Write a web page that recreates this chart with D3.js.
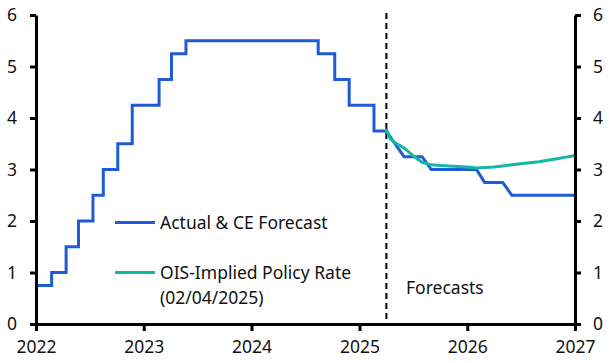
<!DOCTYPE html>
<html><head><meta charset="utf-8">
<script src="https://cdn.jsdelivr.net/npm/d3@7"></script>
<style>
html,body{margin:0;padding:0;background:#fff;}
text{font-family:"Noto Sans","Open Sans",sans-serif;fill:#111;}
</style></head>
<body><svg id="c" width="610" height="363"></svg>
<script>
// Policy rate decisions (date of change, new rate)
const actualDates = ["2022-01-01","2022-02-23","2022-04-13","2022-05-25","2022-07-13","2022-08-17","2022-10-05","2022-11-23","2023-02-22","2023-04-05","2023-05-24","2024-08-14","2024-10-09","2024-11-27","2025-02-19","2025-04-01"];
const actualRates = [0.75,1.0,1.5,2.0,2.5,3.0,3.5,4.25,4.75,5.25,5.5,5.25,4.75,4.25,3.75,3.75];
// CE forecast (monthly)
const forecastDates = ["2025-04-01","2025-05-01","2025-06-01","2025-07-01","2025-08-01","2025-09-01","2025-10-01","2025-11-01","2025-12-01","2026-01-01","2026-02-01","2026-03-01","2026-04-01","2026-05-01","2026-06-01","2026-07-01","2026-08-01","2026-09-01","2026-10-01","2026-11-01","2026-12-01","2027-01-01"];
const forecastRates = [3.75,3.5,3.25,3.25,3.25,3.0,3.0,3.0,3.0,3.0,3.0,2.75,2.75,2.75,2.5,2.5,2.5,2.5,2.5,2.5,2.5,2.5];
// OIS-implied policy rate (02/04/2025)
const oisDates = ["2025-04-02","2025-04-15","2025-05-01","2025-06-01","2025-07-01","2025-08-01","2025-09-01","2025-10-01","2025-11-01","2025-12-01","2026-01-01","2026-02-01","2026-03-01","2026-04-01","2026-05-01","2026-06-01","2026-07-01","2026-08-01","2026-09-01","2026-10-01","2026-11-01","2026-12-01","2027-01-01"];
const oisRates = [3.78,3.60,3.52,3.42,3.27,3.14,3.09,3.08,3.07,3.06,3.05,3.03,3.04,3.05,3.07,3.09,3.11,3.13,3.15,3.18,3.21,3.24,3.27];
const yTicks = [0,1,2,3,4,5,6];
const xTickYears = [2022,2023,2024,2025,2026,2027];
const forecastStart = "2025-04-02";
const legendLabels = ["Actual & CE Forecast","OIS-Implied Policy Rate","(02/04/2025)"];
const annotation = "Forecasts";

const parse = d3.timeParse("%Y-%m-%d");
const svg = d3.select("#c");
const mLeft = 36, mRight = 575, mTop = 15, mBottom = 324;
const x = d3.scaleTime().domain([new Date(2022,0,1), new Date(2027,0,1)]).range([mLeft,mRight]);
const y = d3.scaleLinear().domain([0,6]).range([mBottom,mTop]);
const BLUE = "#1f5bd6", TEAL = "#14b6a6";

const actual = actualDates.map((d,i)=>({d:parse(d),v:actualRates[i]}));
const fc = forecastDates.map((d,i)=>({d:parse(d),v:forecastRates[i]}));
const ois = oisDates.map((d,i)=>({d:parse(d),v:oisRates[i]}));

// dashed forecast divider
svg.append("line").attr("x1",x(parse(forecastStart))).attr("x2",x(parse(forecastStart)))
  .attr("y1",mTop-2).attr("y2",mBottom).attr("stroke","#000").attr("stroke-width",2)
  .attr("stroke-dasharray","6,4");

const lineStep = d3.line().x(p=>x(p.d)).y(p=>y(p.v)).curve(d3.curveStepAfter);
const lineLin = d3.line().x(p=>x(p.d)).y(p=>y(p.v));

svg.append("path").attr("d",lineStep(actual)).attr("fill","none").attr("stroke",BLUE).attr("stroke-width",3);
svg.append("path").attr("d",lineLin(fc)).attr("fill","none").attr("stroke",BLUE).attr("stroke-width",3);
svg.append("path").attr("d",lineLin(ois)).attr("fill","none").attr("stroke",TEAL).attr("stroke-width",3);

// axes
const fs = "17.5px";
const yl = d3.axisLeft(y).tickValues(yTicks).tickSize(6).tickPadding(13).tickFormat(d3.format("d"));
const yr = d3.axisRight(y).tickValues(yTicks).tickSize(6).tickPadding(12).tickFormat(d3.format("d"));
const xb = d3.axisBottom(x).tickValues(xTickYears.map(yv=>new Date(yv,0,1))).tickSize(7).tickPadding(10).tickFormat(d3.timeFormat("%Y"));
function style(g){
  g.select(".domain").attr("stroke","#000").attr("stroke-width",3);
  g.selectAll(".tick line").attr("stroke","#000").attr("stroke-width",3);
  g.selectAll("text").style("font-size",fs).style("font-family","'Noto Sans',sans-serif").attr("fill","#111");
}
svg.append("g").attr("transform",`translate(${mLeft},0)`).call(yl.tickSizeOuter(0)).call(style);
svg.append("g").attr("transform",`translate(${mRight},0)`).call(yr.tickSizeOuter(0)).call(style);
svg.append("g").attr("transform",`translate(0,${mBottom})`).call(xb.tickSizeOuter(0)).call(style);

// legend
const lg = svg.append("g");
lg.append("line").attr("x1",115).attr("x2",155).attr("y1",222.5).attr("y2",222.5).attr("stroke",BLUE).attr("stroke-width",3);
lg.append("text").attr("x",160).attr("y",229).style("font-size",fs).text(legendLabels[0]);
lg.append("line").attr("x1",115).attr("x2",155).attr("y1",272.5).attr("y2",272.5).attr("stroke",TEAL).attr("stroke-width",3);
lg.append("text").attr("x",160).attr("y",279).style("font-size",fs).text(legendLabels[1]);
lg.append("text").attr("x",160).attr("y",304).style("font-size",fs).text(legendLabels[2]);
svg.append("text").attr("x",406).attr("y",294).style("font-size",fs).text(annotation);
</script></body></html>
